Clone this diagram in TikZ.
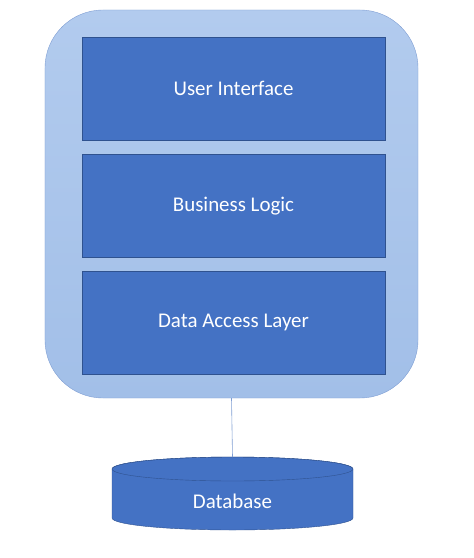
\documentclass[tikz,border=0pt]{standalone}
\usepackage{fontspec}
\setmainfont{Carlito}
\definecolor{layerblue}{HTML}{4472C4}
\definecolor{layeredge}{HTML}{2F528F}
\definecolor{outertop}{HTML}{B2CBEE}
\definecolor{outerbottom}{HTML}{A2BFE8}
\definecolor{outeredge}{HTML}{7F9ED3}
\tikzset{
  layer/.style={draw=layeredge, fill=layerblue, text=white, minimum width=303bp, minimum height=103bp, inner sep=0pt},
  tier/.style={draw=outeredge, top color=outertop, bottom color=outerbottom, rounded corners=58bp, minimum width=373bp, minimum height=388bp, inner sep=0pt}
}
\begin{document}
\begin{tikzpicture}[x=1bp, y=-1bp, font=\fontsize{21}{25}\selectfont]
  \useasboundingbox (0, 0) rectangle (474, 558);
  \begin{scope}
    \node [tier] (app) at (231.5, 204) {};

    \node [layer] (ui) at (233.5, 88.5) {User Interface};
    \node [layer] (logic) at (233.5, 206) {Business Logic};
    \node [layer] (dal) at (233.5, 322.5) {Data Access Layer};

    % database drum (y axis points down, so the arcs run the other way)
    \fill [layerblue, draw=layeredge] (112, 469) -- (112, 518) arc [start angle=180, end angle=0, x radius=120.5, y radius=12]
      -- (353, 469) arc [start angle=0, end angle=-180, x radius=120.5, y radius=12] -- cycle;
    \draw [layeredge] (232.5, 469) ellipse [x radius=120.5, y radius=12];
    \coordinate (dbtop) at (232.5, 457);
    \node [text=white] (db) at (232.5, 501) {Database};

    \draw [outeredge, line width=0.6bp] (app.south) -- (dbtop);
  \end{scope}
\end{tikzpicture}
\end{document}
